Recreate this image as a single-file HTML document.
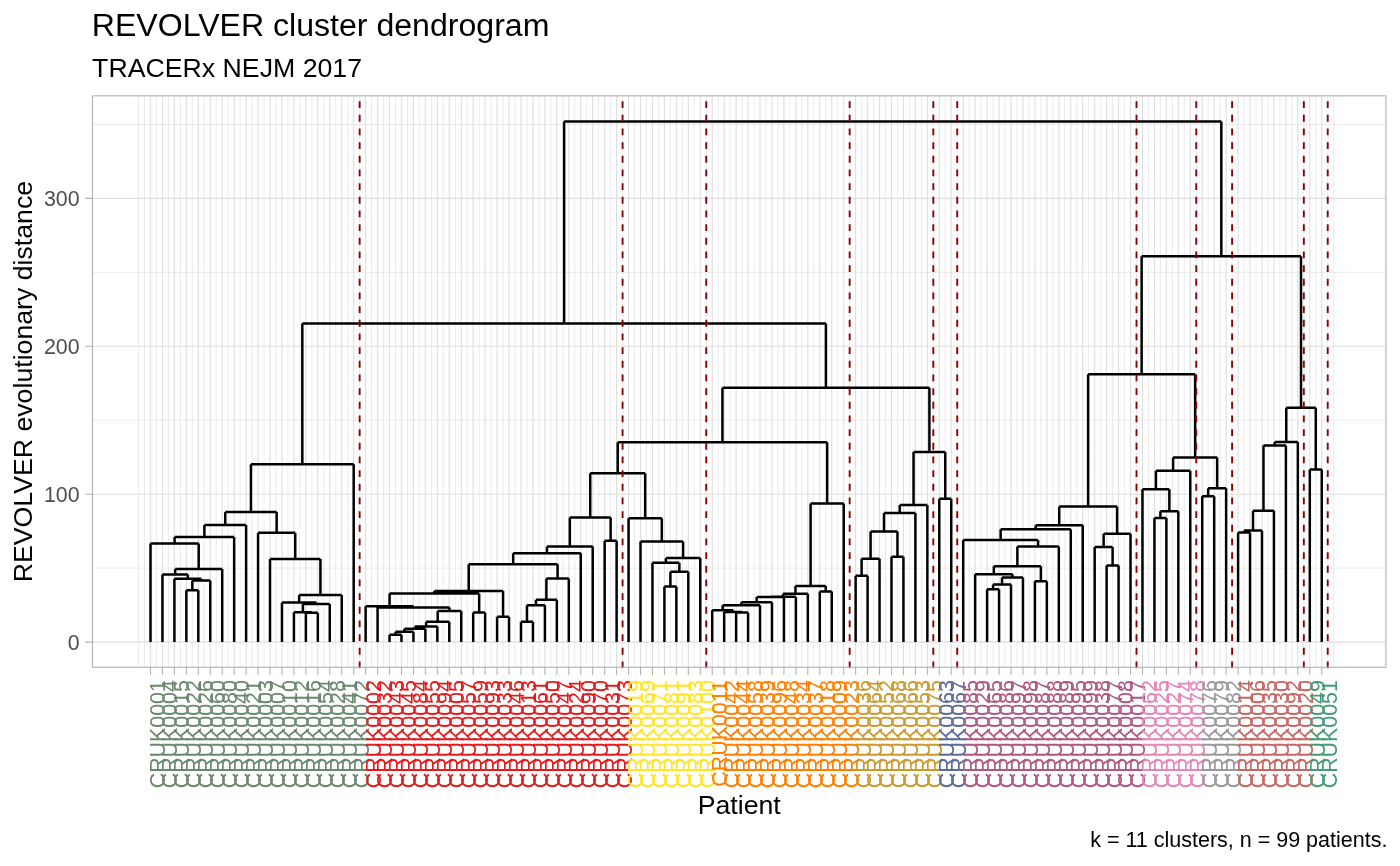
<!DOCTYPE html><html><head><meta charset="utf-8"><title>REVOLVER cluster dendrogram</title>
<style>html,body{margin:0;padding:0;background:#fff;width:1400px;height:866px;overflow:hidden}svg{display:block;will-change:transform;font-family:"Liberation Sans",sans-serif}</style></head><body>
<svg width="1400" height="866" viewBox="0 0 1400 866">
<path d="M92.5 568.15H1385.9 M92.5 420.25H1385.9 M92.5 272.35H1385.9 M92.5 124.45H1385.9 M138.55 95.85V667.3 M144.52 95.85V667.3 M156.48 95.85V667.3 M168.43 95.85V667.3 M180.38 95.85V667.3 M192.33 95.85V667.3 M204.28 95.85V667.3 M216.23 95.85V667.3 M228.18 95.85V667.3 M240.14 95.85V667.3 M252.09 95.85V667.3 M264.04 95.85V667.3 M275.99 95.85V667.3 M287.94 95.85V667.3 M299.89 95.85V667.3 M311.85 95.85V667.3 M323.8 95.85V667.3 M335.75 95.85V667.3 M347.7 95.85V667.3 M359.65 95.85V667.3 M371.6 95.85V667.3 M383.55 95.85V667.3 M395.51 95.85V667.3 M407.46 95.85V667.3 M419.41 95.85V667.3 M431.36 95.85V667.3 M443.31 95.85V667.3 M455.26 95.85V667.3 M467.21 95.85V667.3 M479.17 95.85V667.3 M491.12 95.85V667.3 M503.07 95.85V667.3 M515.02 95.85V667.3 M526.97 95.85V667.3 M538.92 95.85V667.3 M550.88 95.85V667.3 M562.83 95.85V667.3 M574.78 95.85V667.3 M586.73 95.85V667.3 M598.68 95.85V667.3 M610.63 95.85V667.3 M622.58 95.85V667.3 M634.54 95.85V667.3 M646.49 95.85V667.3 M658.44 95.85V667.3 M670.39 95.85V667.3 M682.34 95.85V667.3 M694.29 95.85V667.3 M706.24 95.85V667.3 M718.2 95.85V667.3 M730.15 95.85V667.3 M742.1 95.85V667.3 M754.05 95.85V667.3 M766 95.85V667.3 M777.95 95.85V667.3 M789.91 95.85V667.3 M801.86 95.85V667.3 M813.81 95.85V667.3 M825.76 95.85V667.3 M837.71 95.85V667.3 M849.66 95.85V667.3 M861.61 95.85V667.3 M873.57 95.85V667.3 M885.52 95.85V667.3 M897.47 95.85V667.3 M909.42 95.85V667.3 M921.37 95.85V667.3 M933.32 95.85V667.3 M945.27 95.85V667.3 M957.23 95.85V667.3 M969.18 95.85V667.3 M981.13 95.85V667.3 M993.08 95.85V667.3 M1005.03 95.85V667.3 M1016.98 95.85V667.3 M1028.94 95.85V667.3 M1040.89 95.85V667.3 M1052.84 95.85V667.3 M1064.79 95.85V667.3 M1076.74 95.85V667.3 M1088.69 95.85V667.3 M1100.64 95.85V667.3 M1112.6 95.85V667.3 M1124.55 95.85V667.3 M1136.5 95.85V667.3 M1148.45 95.85V667.3 M1160.4 95.85V667.3 M1172.35 95.85V667.3 M1184.3 95.85V667.3 M1196.26 95.85V667.3 M1208.21 95.85V667.3 M1220.16 95.85V667.3 M1232.11 95.85V667.3 M1244.06 95.85V667.3 M1256.01 95.85V667.3 M1267.97 95.85V667.3 M1279.92 95.85V667.3 M1291.87 95.85V667.3 M1303.82 95.85V667.3 M1315.77 95.85V667.3 M1327.72 95.85V667.3 M1333.7 95.85V667.3" stroke="#DEDEDE" stroke-width="0.6" fill="none"/>
<path d="M92.5 642.1H1385.9 M92.5 494.2H1385.9 M92.5 346.3H1385.9 M92.5 198.4H1385.9 M150.5 95.85V667.3 M162.45 95.85V667.3 M174.4 95.85V667.3 M186.35 95.85V667.3 M198.31 95.85V667.3 M210.26 95.85V667.3 M222.21 95.85V667.3 M234.16 95.85V667.3 M246.11 95.85V667.3 M258.06 95.85V667.3 M270.01 95.85V667.3 M281.97 95.85V667.3 M293.92 95.85V667.3 M305.87 95.85V667.3 M317.82 95.85V667.3 M329.77 95.85V667.3 M341.72 95.85V667.3 M353.68 95.85V667.3 M365.63 95.85V667.3 M377.58 95.85V667.3 M389.53 95.85V667.3 M401.48 95.85V667.3 M413.43 95.85V667.3 M425.38 95.85V667.3 M437.34 95.85V667.3 M449.29 95.85V667.3 M461.24 95.85V667.3 M473.19 95.85V667.3 M485.14 95.85V667.3 M497.09 95.85V667.3 M509.04 95.85V667.3 M521 95.85V667.3 M532.95 95.85V667.3 M544.9 95.85V667.3 M556.85 95.85V667.3 M568.8 95.85V667.3 M580.75 95.85V667.3 M592.71 95.85V667.3 M604.66 95.85V667.3 M616.61 95.85V667.3 M628.56 95.85V667.3 M640.51 95.85V667.3 M652.46 95.85V667.3 M664.41 95.85V667.3 M676.37 95.85V667.3 M688.32 95.85V667.3 M700.27 95.85V667.3 M712.22 95.85V667.3 M724.17 95.85V667.3 M736.12 95.85V667.3 M748.07 95.85V667.3 M760.03 95.85V667.3 M771.98 95.85V667.3 M783.93 95.85V667.3 M795.88 95.85V667.3 M807.83 95.85V667.3 M819.78 95.85V667.3 M831.74 95.85V667.3 M843.69 95.85V667.3 M855.64 95.85V667.3 M867.59 95.85V667.3 M879.54 95.85V667.3 M891.49 95.85V667.3 M903.44 95.85V667.3 M915.4 95.85V667.3 M927.35 95.85V667.3 M939.3 95.85V667.3 M951.25 95.85V667.3 M963.2 95.85V667.3 M975.15 95.85V667.3 M987.1 95.85V667.3 M999.06 95.85V667.3 M1011.01 95.85V667.3 M1022.96 95.85V667.3 M1034.91 95.85V667.3 M1046.86 95.85V667.3 M1058.81 95.85V667.3 M1070.77 95.85V667.3 M1082.72 95.85V667.3 M1094.67 95.85V667.3 M1106.62 95.85V667.3 M1118.57 95.85V667.3 M1130.52 95.85V667.3 M1142.47 95.85V667.3 M1154.43 95.85V667.3 M1166.38 95.85V667.3 M1178.33 95.85V667.3 M1190.28 95.85V667.3 M1202.23 95.85V667.3 M1214.18 95.85V667.3 M1226.13 95.85V667.3 M1238.09 95.85V667.3 M1250.04 95.85V667.3 M1261.99 95.85V667.3 M1273.94 95.85V667.3 M1285.89 95.85V667.3 M1297.84 95.85V667.3 M1309.8 95.85V667.3 M1321.75 95.85V667.3" stroke="#DEDEDE" stroke-width="1.1" fill="none"/>
<path d="M192.33 590.2L186.35 590.2 M186.35 590.2L186.35 642.1 M192.33 590.2L198.31 590.2 M198.31 590.2L198.31 642.1 M201.29 580.5L192.33 580.5 M192.33 580.5L192.33 590.2 M201.29 580.5L210.26 580.5 M210.26 580.5L210.26 642.1 M187.85 578.7L174.4 578.7 M174.4 578.7L174.4 642.1 M187.85 578.7L201.29 578.7 M201.29 578.7L201.29 580.5 M175.15 574.5L162.45 574.5 M162.45 574.5L162.45 642.1 M175.15 574.5L187.85 574.5 M187.85 574.5L187.85 578.7 M198.68 569L175.15 569 M175.15 569L175.15 574.5 M198.68 569L222.21 569 M222.21 569L222.21 642.1 M174.59 543.6L150.5 543.6 M150.5 543.6L150.5 642.1 M174.59 543.6L198.68 543.6 M198.68 543.6L198.68 569 M204.38 537.1L174.59 537.1 M174.59 537.1L174.59 543.6 M204.38 537.1L234.16 537.1 M234.16 537.1L234.16 642.1 M225.24 525.1L204.38 525.1 M204.38 525.1L204.38 537.1 M225.24 525.1L246.11 525.1 M246.11 525.1L246.11 642.1 M311.85 612.8L305.87 612.8 M305.87 612.8L305.87 642.1 M311.85 612.8L317.82 612.8 M317.82 612.8L317.82 642.1 M302.88 612.3L293.92 612.3 M293.92 612.3L293.92 642.1 M302.88 612.3L311.85 612.3 M311.85 612.3L311.85 612.8 M316.33 604L302.88 604 M302.88 604L302.88 612.3 M316.33 604L329.77 604 M329.77 604L329.77 642.1 M299.15 602.5L281.97 602.5 M281.97 602.5L281.97 642.1 M299.15 602.5L316.33 602.5 M316.33 602.5L316.33 604 M320.44 595L299.15 595 M299.15 595L299.15 602.5 M320.44 595L341.72 595 M341.72 595L341.72 642.1 M295.23 559L270.01 559 M270.01 559L270.01 642.1 M295.23 559L320.44 559 M320.44 559L320.44 595 M276.64 532.7L258.06 532.7 M258.06 532.7L258.06 642.1 M276.64 532.7L295.23 532.7 M295.23 532.7L295.23 559 M250.94 512.1L225.24 512.1 M225.24 512.1L225.24 525.1 M250.94 512.1L276.64 512.1 M276.64 512.1L276.64 532.7 M302.31 464.3L250.94 464.3 M250.94 464.3L250.94 512.1 M302.31 464.3L353.68 464.3 M353.68 464.3L353.68 642.1 M395.51 634.8L389.53 634.8 M389.53 634.8L389.53 642.1 M395.51 634.8L401.48 634.8 M401.48 634.8L401.48 642.1 M404.47 631.8L395.51 631.8 M395.51 631.8L395.51 634.8 M404.47 631.8L413.43 631.8 M413.43 631.8L413.43 642.1 M414.93 628.8L404.47 628.8 M404.47 628.8L404.47 631.8 M414.93 628.8L425.38 628.8 M425.38 628.8L425.38 642.1 M426.13 626.6L414.93 626.6 M414.93 626.6L414.93 628.8 M426.13 626.6L437.34 626.6 M437.34 626.6L437.34 642.1 M437.71 621.8L426.13 621.8 M426.13 621.8L426.13 626.6 M437.71 621.8L449.29 621.8 M449.29 621.8L449.29 642.1 M449.47 611.1L437.71 611.1 M437.71 611.1L437.71 621.8 M449.47 611.1L461.24 611.1 M461.24 611.1L461.24 642.1 M413.53 607.5L377.58 607.5 M377.58 607.5L377.58 642.1 M413.53 607.5L449.47 607.5 M449.47 607.5L449.47 611.1 M389.58 606.3L365.63 606.3 M365.63 606.3L365.63 642.1 M389.58 606.3L413.53 606.3 M413.53 606.3L413.53 607.5 M479.17 612.6L473.19 612.6 M473.19 612.6L473.19 642.1 M479.17 612.6L485.14 612.6 M485.14 612.6L485.14 642.1 M434.37 593.6L389.58 593.6 M389.58 593.6L389.58 606.3 M434.37 593.6L479.17 593.6 M479.17 593.6L479.17 612.6 M503.07 616.8L497.09 616.8 M497.09 616.8L497.09 642.1 M503.07 616.8L509.04 616.8 M509.04 616.8L509.04 642.1 M468.72 591L434.37 591 M434.37 591L434.37 593.6 M468.72 591L503.07 591 M503.07 591L503.07 616.8 M526.97 621.8L521 621.8 M521 621.8L521 642.1 M526.97 621.8L532.95 621.8 M532.95 621.8L532.95 642.1 M535.94 605.2L526.97 605.2 M526.97 605.2L526.97 621.8 M535.94 605.2L544.9 605.2 M544.9 605.2L544.9 642.1 M546.39 599.7L535.94 599.7 M535.94 599.7L535.94 605.2 M546.39 599.7L556.85 599.7 M556.85 599.7L556.85 642.1 M557.6 578.4L546.39 578.4 M546.39 578.4L546.39 599.7 M557.6 578.4L568.8 578.4 M568.8 578.4L568.8 642.1 M513.16 564.2L468.72 564.2 M468.72 564.2L468.72 591 M513.16 564.2L557.6 564.2 M557.6 564.2L557.6 578.4 M546.96 553.2L513.16 553.2 M513.16 553.2L513.16 564.2 M546.96 553.2L580.75 553.2 M580.75 553.2L580.75 642.1 M569.83 546.6L546.96 546.6 M546.96 546.6L546.96 553.2 M569.83 546.6L592.71 546.6 M592.71 546.6L592.71 642.1 M610.63 540.7L604.66 540.7 M604.66 540.7L604.66 642.1 M610.63 540.7L616.61 540.7 M616.61 540.7L616.61 642.1 M590.23 517.5L569.83 517.5 M569.83 517.5L569.83 546.6 M590.23 517.5L610.63 517.5 M610.63 517.5L610.63 540.7 M670.39 586.4L664.41 586.4 M664.41 586.4L664.41 642.1 M670.39 586.4L676.37 586.4 M676.37 586.4L676.37 642.1 M679.35 571.8L670.39 571.8 M670.39 571.8L670.39 586.4 M679.35 571.8L688.32 571.8 M688.32 571.8L688.32 642.1 M665.91 562.8L652.46 562.8 M652.46 562.8L652.46 642.1 M665.91 562.8L679.35 562.8 M679.35 562.8L679.35 571.8 M683.09 558L665.91 558 M665.91 558L665.91 562.8 M683.09 558L700.27 558 M700.27 558L700.27 642.1 M661.8 541.6L640.51 541.6 M640.51 541.6L640.51 642.1 M661.8 541.6L683.09 541.6 M683.09 541.6L683.09 558 M645.18 518.2L628.56 518.2 M628.56 518.2L628.56 642.1 M645.18 518.2L661.8 518.2 M661.8 518.2L661.8 541.6 M617.71 473.3L590.23 473.3 M590.23 473.3L590.23 517.5 M617.71 473.3L645.18 473.3 M645.18 473.3L645.18 518.2 M742.1 612.5L736.12 612.5 M736.12 612.5L736.12 642.1 M742.1 612.5L748.07 612.5 M748.07 612.5L748.07 642.1 M733.14 612L724.17 612 M724.17 612L724.17 642.1 M733.14 612L742.1 612 M742.1 612L742.1 612.5 M722.68 610.25L712.22 610.25 M712.22 610.25L712.22 642.1 M722.68 610.25L733.14 610.25 M733.14 610.25L733.14 612 M741.35 605.25L722.68 605.25 M722.68 605.25L722.68 610.25 M741.35 605.25L760.03 605.25 M760.03 605.25L760.03 642.1 M756.67 602.3L741.35 602.3 M741.35 602.3L741.35 605.25 M756.67 602.3L771.98 602.3 M771.98 602.3L771.98 642.1 M770.3 597L756.67 597 M756.67 597L756.67 602.3 M770.3 597L783.93 597 M783.93 597L783.93 642.1 M783.09 596.7L770.3 596.7 M770.3 596.7L770.3 597 M783.09 596.7L795.88 596.7 M795.88 596.7L795.88 642.1 M795.46 593.8L783.09 593.8 M783.09 593.8L783.09 596.7 M795.46 593.8L807.83 593.8 M807.83 593.8L807.83 642.1 M825.76 591.6L819.78 591.6 M819.78 591.6L819.78 642.1 M825.76 591.6L831.74 591.6 M831.74 591.6L831.74 642.1 M810.61 586.1L795.46 586.1 M795.46 586.1L795.46 593.8 M810.61 586.1L825.76 586.1 M825.76 586.1L825.76 591.6 M827.15 503.5L810.61 503.5 M810.61 503.5L810.61 586.1 M827.15 503.5L843.69 503.5 M843.69 503.5L843.69 642.1 M722.43 442.3L617.71 442.3 M617.71 442.3L617.71 473.3 M722.43 442.3L827.15 442.3 M827.15 442.3L827.15 503.5 M861.61 575.8L855.64 575.8 M855.64 575.8L855.64 642.1 M861.61 575.8L867.59 575.8 M867.59 575.8L867.59 642.1 M870.58 558.8L861.61 558.8 M861.61 558.8L861.61 575.8 M870.58 558.8L879.54 558.8 M879.54 558.8L879.54 642.1 M897.47 556.8L891.49 556.8 M891.49 556.8L891.49 642.1 M897.47 556.8L903.44 556.8 M903.44 556.8L903.44 642.1 M884.02 531.6L870.58 531.6 M870.58 531.6L870.58 558.8 M884.02 531.6L897.47 531.6 M897.47 531.6L897.47 556.8 M899.71 512.9L884.02 512.9 M884.02 512.9L884.02 531.6 M899.71 512.9L915.4 512.9 M915.4 512.9L915.4 642.1 M913.53 505.1L899.71 505.1 M899.71 505.1L899.71 512.9 M913.53 505.1L927.35 505.1 M927.35 505.1L927.35 642.1 M945.27 498.8L939.3 498.8 M939.3 498.8L939.3 642.1 M945.27 498.8L951.25 498.8 M951.25 498.8L951.25 642.1 M929.4 452.1L913.53 452.1 M913.53 452.1L913.53 505.1 M929.4 452.1L945.27 452.1 M945.27 452.1L945.27 498.8 M825.91 387.8L722.43 387.8 M722.43 387.8L722.43 442.3 M825.91 387.8L929.4 387.8 M929.4 387.8L929.4 452.1 M564.11 323.6L302.31 323.6 M302.31 323.6L302.31 464.3 M564.11 323.6L825.91 323.6 M825.91 323.6L825.91 387.8 M993.08 589.3L987.1 589.3 M987.1 589.3L987.1 642.1 M993.08 589.3L999.06 589.3 M999.06 589.3L999.06 642.1 M1002.04 584.4L993.08 584.4 M993.08 584.4L993.08 589.3 M1002.04 584.4L1011.01 584.4 M1011.01 584.4L1011.01 642.1 M1012.5 577.5L1002.04 577.5 M1002.04 577.5L1002.04 584.4 M1012.5 577.5L1022.96 577.5 M1022.96 577.5L1022.96 642.1 M993.83 574.2L975.15 574.2 M975.15 574.2L975.15 642.1 M993.83 574.2L1012.5 574.2 M1012.5 574.2L1012.5 577.5 M1040.89 581.3L1034.91 581.3 M1034.91 581.3L1034.91 642.1 M1040.89 581.3L1046.86 581.3 M1046.86 581.3L1046.86 642.1 M1017.36 566.3L993.83 566.3 M993.83 566.3L993.83 574.2 M1017.36 566.3L1040.89 566.3 M1040.89 566.3L1040.89 581.3 M1038.09 546.5L1017.36 546.5 M1017.36 546.5L1017.36 566.3 M1038.09 546.5L1058.81 546.5 M1058.81 546.5L1058.81 642.1 M1000.64 540L963.2 540 M963.2 540L963.2 642.1 M1000.64 540L1038.09 540 M1038.09 540L1038.09 546.5 M1035.7 529.2L1000.64 529.2 M1000.64 529.2L1000.64 540 M1035.7 529.2L1070.77 529.2 M1070.77 529.2L1070.77 642.1 M1059.21 525.3L1035.7 525.3 M1035.7 525.3L1035.7 529.2 M1059.21 525.3L1082.72 525.3 M1082.72 525.3L1082.72 642.1 M1112.6 565.4L1106.62 565.4 M1106.62 565.4L1106.62 642.1 M1112.6 565.4L1118.57 565.4 M1118.57 565.4L1118.57 642.1 M1103.63 546.9L1094.67 546.9 M1094.67 546.9L1094.67 642.1 M1103.63 546.9L1112.6 546.9 M1112.6 546.9L1112.6 565.4 M1117.08 533.8L1103.63 533.8 M1103.63 533.8L1103.63 546.9 M1117.08 533.8L1130.52 533.8 M1130.52 533.8L1130.52 642.1 M1088.14 506.6L1059.21 506.6 M1059.21 506.6L1059.21 525.3 M1088.14 506.6L1117.08 506.6 M1117.08 506.6L1117.08 533.8 M1160.4 518.1L1154.43 518.1 M1154.43 518.1L1154.43 642.1 M1160.4 518.1L1166.38 518.1 M1166.38 518.1L1166.38 642.1 M1169.37 511.2L1160.4 511.2 M1160.4 511.2L1160.4 518.1 M1169.37 511.2L1178.33 511.2 M1178.33 511.2L1178.33 642.1 M1155.92 489.3L1142.47 489.3 M1142.47 489.3L1142.47 642.1 M1155.92 489.3L1169.37 489.3 M1169.37 489.3L1169.37 511.2 M1173.1 470.8L1155.92 470.8 M1155.92 470.8L1155.92 489.3 M1173.1 470.8L1190.28 470.8 M1190.28 470.8L1190.28 642.1 M1208.21 496.3L1202.23 496.3 M1202.23 496.3L1202.23 642.1 M1208.21 496.3L1214.18 496.3 M1214.18 496.3L1214.18 642.1 M1217.17 488.2L1208.21 488.2 M1208.21 488.2L1208.21 496.3 M1217.17 488.2L1226.13 488.2 M1226.13 488.2L1226.13 642.1 M1195.14 457.4L1173.1 457.4 M1173.1 457.4L1173.1 470.8 M1195.14 457.4L1217.17 457.4 M1217.17 457.4L1217.17 488.2 M1141.64 374.2L1088.14 374.2 M1088.14 374.2L1088.14 506.6 M1141.64 374.2L1195.14 374.2 M1195.14 374.2L1195.14 457.4 M1244.06 532.6L1238.09 532.6 M1238.09 532.6L1238.09 642.1 M1244.06 532.6L1250.04 532.6 M1250.04 532.6L1250.04 642.1 M1253.03 530.6L1244.06 530.6 M1244.06 530.6L1244.06 532.6 M1253.03 530.6L1261.99 530.6 M1261.99 530.6L1261.99 642.1 M1263.48 510.7L1253.03 510.7 M1253.03 510.7L1253.03 530.6 M1263.48 510.7L1273.94 510.7 M1273.94 510.7L1273.94 642.1 M1274.69 445.6L1263.48 445.6 M1263.48 445.6L1263.48 510.7 M1274.69 445.6L1285.89 445.6 M1285.89 445.6L1285.89 642.1 M1286.27 441.9L1274.69 441.9 M1274.69 441.9L1274.69 445.6 M1286.27 441.9L1297.84 441.9 M1297.84 441.9L1297.84 642.1 M1315.77 469.4L1309.8 469.4 M1309.8 469.4L1309.8 642.1 M1315.77 469.4L1321.75 469.4 M1321.75 469.4L1321.75 642.1 M1301.02 407.7L1286.27 407.7 M1286.27 407.7L1286.27 441.9 M1301.02 407.7L1315.77 407.7 M1315.77 407.7L1315.77 469.4 M1221.33 256.2L1141.64 256.2 M1141.64 256.2L1141.64 374.2 M1221.33 256.2L1301.02 256.2 M1301.02 256.2L1301.02 407.7 M892.72 121.5L564.11 121.5 M564.11 121.5L564.11 323.6 M892.72 121.5L1221.33 121.5 M1221.33 121.5L1221.33 256.2" stroke="#000" stroke-width="2.5" stroke-linecap="butt" fill="none"/>
<path d="M359.65 668.3V95.85 M622.58 668.3V95.85 M706.24 668.3V95.85 M849.66 668.3V95.85 M933.32 668.3V95.85 M957.23 668.3V95.85 M1136.5 668.3V95.85 M1196.26 668.3V95.85 M1232.11 668.3V95.85 M1303.82 668.3V95.85 M1327.72 668.3V95.85" stroke="#8B0000" stroke-width="1.9" stroke-dasharray="6.833 6.833" fill="none"/>
<rect x="92.5" y="95.85" width="1293.4" height="571.45" fill="none" stroke="#B3B3B3" stroke-width="1.15"/>
<path d="M85.2 642.1H92.5 M85.2 494.2H92.5 M85.2 346.3H92.5 M85.2 198.4H92.5 M150.5 667.3V675 M162.45 667.3V675 M174.4 667.3V675 M186.35 667.3V675 M198.31 667.3V675 M210.26 667.3V675 M222.21 667.3V675 M234.16 667.3V675 M246.11 667.3V675 M258.06 667.3V675 M270.01 667.3V675 M281.97 667.3V675 M293.92 667.3V675 M305.87 667.3V675 M317.82 667.3V675 M329.77 667.3V675 M341.72 667.3V675 M353.68 667.3V675 M365.63 667.3V675 M377.58 667.3V675 M389.53 667.3V675 M401.48 667.3V675 M413.43 667.3V675 M425.38 667.3V675 M437.34 667.3V675 M449.29 667.3V675 M461.24 667.3V675 M473.19 667.3V675 M485.14 667.3V675 M497.09 667.3V675 M509.04 667.3V675 M521 667.3V675 M532.95 667.3V675 M544.9 667.3V675 M556.85 667.3V675 M568.8 667.3V675 M580.75 667.3V675 M592.71 667.3V675 M604.66 667.3V675 M616.61 667.3V675 M628.56 667.3V675 M640.51 667.3V675 M652.46 667.3V675 M664.41 667.3V675 M676.37 667.3V675 M688.32 667.3V675 M700.27 667.3V675 M712.22 667.3V675 M724.17 667.3V675 M736.12 667.3V675 M748.07 667.3V675 M760.03 667.3V675 M771.98 667.3V675 M783.93 667.3V675 M795.88 667.3V675 M807.83 667.3V675 M819.78 667.3V675 M831.74 667.3V675 M843.69 667.3V675 M855.64 667.3V675 M867.59 667.3V675 M879.54 667.3V675 M891.49 667.3V675 M903.44 667.3V675 M915.4 667.3V675 M927.35 667.3V675 M939.3 667.3V675 M951.25 667.3V675 M963.2 667.3V675 M975.15 667.3V675 M987.1 667.3V675 M999.06 667.3V675 M1011.01 667.3V675 M1022.96 667.3V675 M1034.91 667.3V675 M1046.86 667.3V675 M1058.81 667.3V675 M1070.77 667.3V675 M1082.72 667.3V675 M1094.67 667.3V675 M1106.62 667.3V675 M1118.57 667.3V675 M1130.52 667.3V675 M1142.47 667.3V675 M1154.43 667.3V675 M1166.38 667.3V675 M1178.33 667.3V675 M1190.28 667.3V675 M1202.23 667.3V675 M1214.18 667.3V675 M1226.13 667.3V675 M1238.09 667.3V675 M1250.04 667.3V675 M1261.99 667.3V675 M1273.94 667.3V675 M1285.89 667.3V675 M1297.84 667.3V675 M1309.8 667.3V675 M1321.75 667.3V675" stroke="#B3B3B3" stroke-width="1.1" fill="none"/>
<text x="79.6" y="649.5" font-size="21.4" fill="#4D4D4D" text-anchor="end">0</text>
<text x="79.6" y="501.6" font-size="21.4" fill="#4D4D4D" text-anchor="end">100</text>
<text x="79.6" y="353.7" font-size="21.4" fill="#4D4D4D" text-anchor="end">200</text>
<text x="79.6" y="205.8" font-size="21.4" fill="#4D4D4D" text-anchor="end">300</text>
<text transform="translate(165.4 680.1) rotate(-90)" font-size="21.4" fill="#6B886E" text-anchor="end">CRUK0001</text>
<text transform="translate(177.35 680.1) rotate(-90)" font-size="21.4" fill="#6B886E" text-anchor="end">CRUK0004</text>
<text transform="translate(189.3 680.1) rotate(-90)" font-size="21.4" fill="#6B886E" text-anchor="end">CRUK0015</text>
<text transform="translate(201.25 680.1) rotate(-90)" font-size="21.4" fill="#6B886E" text-anchor="end">CRUK0022</text>
<text transform="translate(213.21 680.1) rotate(-90)" font-size="21.4" fill="#6B886E" text-anchor="end">CRUK0026</text>
<text transform="translate(225.16 680.1) rotate(-90)" font-size="21.4" fill="#6B886E" text-anchor="end">CRUK0060</text>
<text transform="translate(237.11 680.1) rotate(-90)" font-size="21.4" fill="#6B886E" text-anchor="end">CRUK0080</text>
<text transform="translate(249.06 680.1) rotate(-90)" font-size="21.4" fill="#6B886E" text-anchor="end">CRUK0040</text>
<text transform="translate(261.01 680.1) rotate(-90)" font-size="21.4" fill="#6B886E" text-anchor="end">CRUK0021</text>
<text transform="translate(272.96 680.1) rotate(-90)" font-size="21.4" fill="#6B886E" text-anchor="end">CRUK0003</text>
<text transform="translate(284.91 680.1) rotate(-90)" font-size="21.4" fill="#6B886E" text-anchor="end">CRUK0007</text>
<text transform="translate(296.87 680.1) rotate(-90)" font-size="21.4" fill="#6B886E" text-anchor="end">CRUK0010</text>
<text transform="translate(308.82 680.1) rotate(-90)" font-size="21.4" fill="#6B886E" text-anchor="end">CRUK0012</text>
<text transform="translate(320.77 680.1) rotate(-90)" font-size="21.4" fill="#6B886E" text-anchor="end">CRUK0016</text>
<text transform="translate(332.72 680.1) rotate(-90)" font-size="21.4" fill="#6B886E" text-anchor="end">CRUK0054</text>
<text transform="translate(344.67 680.1) rotate(-90)" font-size="21.4" fill="#6B886E" text-anchor="end">CRUK0028</text>
<text transform="translate(356.62 680.1) rotate(-90)" font-size="21.4" fill="#6B886E" text-anchor="end">CRUK0041</text>
<text transform="translate(368.58 680.1) rotate(-90)" font-size="21.4" fill="#6B886E" text-anchor="end">CRUK0072</text>
<text transform="translate(380.53 680.1) rotate(-90)" font-size="21.4" fill="#E41A1C" text-anchor="end">CRUK0002</text>
<text transform="translate(392.48 680.1) rotate(-90)" font-size="21.4" fill="#E41A1C" text-anchor="end">CRUK0032</text>
<text transform="translate(404.43 680.1) rotate(-90)" font-size="21.4" fill="#E41A1C" text-anchor="end">CRUK0043</text>
<text transform="translate(416.38 680.1) rotate(-90)" font-size="21.4" fill="#E41A1C" text-anchor="end">CRUK0045</text>
<text transform="translate(428.33 680.1) rotate(-90)" font-size="21.4" fill="#E41A1C" text-anchor="end">CRUK0084</text>
<text transform="translate(440.28 680.1) rotate(-90)" font-size="21.4" fill="#E41A1C" text-anchor="end">CRUK0055</text>
<text transform="translate(452.24 680.1) rotate(-90)" font-size="21.4" fill="#E41A1C" text-anchor="end">CRUK0094</text>
<text transform="translate(464.19 680.1) rotate(-90)" font-size="21.4" fill="#E41A1C" text-anchor="end">CRUK0005</text>
<text transform="translate(476.14 680.1) rotate(-90)" font-size="21.4" fill="#E41A1C" text-anchor="end">CRUK0057</text>
<text transform="translate(488.09 680.1) rotate(-90)" font-size="21.4" fill="#E41A1C" text-anchor="end">CRUK0059</text>
<text transform="translate(500.04 680.1) rotate(-90)" font-size="21.4" fill="#E41A1C" text-anchor="end">CRUK0093</text>
<text transform="translate(511.99 680.1) rotate(-90)" font-size="21.4" fill="#E41A1C" text-anchor="end">CRUK0033</text>
<text transform="translate(523.94 680.1) rotate(-90)" font-size="21.4" fill="#E41A1C" text-anchor="end">CRUK0046</text>
<text transform="translate(535.9 680.1) rotate(-90)" font-size="21.4" fill="#E41A1C" text-anchor="end">CRUK0013</text>
<text transform="translate(547.85 680.1) rotate(-90)" font-size="21.4" fill="#E41A1C" text-anchor="end">CRUK0061</text>
<text transform="translate(559.8 680.1) rotate(-90)" font-size="21.4" fill="#E41A1C" text-anchor="end">CRUK0050</text>
<text transform="translate(571.75 680.1) rotate(-90)" font-size="21.4" fill="#E41A1C" text-anchor="end">CRUK0047</text>
<text transform="translate(583.7 680.1) rotate(-90)" font-size="21.4" fill="#E41A1C" text-anchor="end">CRUK0024</text>
<text transform="translate(595.65 680.1) rotate(-90)" font-size="21.4" fill="#E41A1C" text-anchor="end">CRUK0090</text>
<text transform="translate(607.61 680.1) rotate(-90)" font-size="21.4" fill="#E41A1C" text-anchor="end">CRUK0070</text>
<text transform="translate(619.56 680.1) rotate(-90)" font-size="21.4" fill="#E41A1C" text-anchor="end">CRUK0031</text>
<text transform="translate(631.51 680.1) rotate(-90)" font-size="21.4" fill="#E41A1C" text-anchor="end">CRUK0073</text>
<text transform="translate(643.46 680.1) rotate(-90)" font-size="21.4" fill="#FFE529" text-anchor="end">CRUK0019</text>
<text transform="translate(655.41 680.1) rotate(-90)" font-size="21.4" fill="#FFE529" text-anchor="end">CRUK0069</text>
<text transform="translate(667.36 680.1) rotate(-90)" font-size="21.4" fill="#FFE529" text-anchor="end">CRUK0071</text>
<text transform="translate(679.31 680.1) rotate(-90)" font-size="21.4" fill="#FFE529" text-anchor="end">CRUK0081</text>
<text transform="translate(691.27 680.1) rotate(-90)" font-size="21.4" fill="#FFE529" text-anchor="end">CRUK0091</text>
<text transform="translate(703.22 680.1) rotate(-90)" font-size="21.4" fill="#FFE529" text-anchor="end">CRUK0083</text>
<text transform="translate(715.17 680.1) rotate(-90)" font-size="21.4" fill="#FFE529" text-anchor="end">CRUK0100</text>
<text transform="translate(727.12 680.1) rotate(-90)" font-size="21.4" fill="#FF7F00" text-anchor="end">CRUK0011</text>
<text transform="translate(739.07 680.1) rotate(-90)" font-size="21.4" fill="#FF7F00" text-anchor="end">CRUK0042</text>
<text transform="translate(751.02 680.1) rotate(-90)" font-size="21.4" fill="#FF7F00" text-anchor="end">CRUK0044</text>
<text transform="translate(762.97 680.1) rotate(-90)" font-size="21.4" fill="#FF7F00" text-anchor="end">CRUK0058</text>
<text transform="translate(774.93 680.1) rotate(-90)" font-size="21.4" fill="#FF7F00" text-anchor="end">CRUK0039</text>
<text transform="translate(786.88 680.1) rotate(-90)" font-size="21.4" fill="#FF7F00" text-anchor="end">CRUK0096</text>
<text transform="translate(798.83 680.1) rotate(-90)" font-size="21.4" fill="#FF7F00" text-anchor="end">CRUK0048</text>
<text transform="translate(810.78 680.1) rotate(-90)" font-size="21.4" fill="#FF7F00" text-anchor="end">CRUK0034</text>
<text transform="translate(822.73 680.1) rotate(-90)" font-size="21.4" fill="#FF7F00" text-anchor="end">CRUK0037</text>
<text transform="translate(834.68 680.1) rotate(-90)" font-size="21.4" fill="#FF7F00" text-anchor="end">CRUK0018</text>
<text transform="translate(846.64 680.1) rotate(-90)" font-size="21.4" fill="#FF7F00" text-anchor="end">CRUK0009</text>
<text transform="translate(858.59 680.1) rotate(-90)" font-size="21.4" fill="#FF7F00" text-anchor="end">CRUK0023</text>
<text transform="translate(870.54 680.1) rotate(-90)" font-size="21.4" fill="#CA9A2C" text-anchor="end">CRUK0036</text>
<text transform="translate(882.49 680.1) rotate(-90)" font-size="21.4" fill="#CA9A2C" text-anchor="end">CRUK0064</text>
<text transform="translate(894.44 680.1) rotate(-90)" font-size="21.4" fill="#CA9A2C" text-anchor="end">CRUK0052</text>
<text transform="translate(906.39 680.1) rotate(-90)" font-size="21.4" fill="#CA9A2C" text-anchor="end">CRUK0068</text>
<text transform="translate(918.34 680.1) rotate(-90)" font-size="21.4" fill="#CA9A2C" text-anchor="end">CRUK0066</text>
<text transform="translate(930.3 680.1) rotate(-90)" font-size="21.4" fill="#CA9A2C" text-anchor="end">CRUK0053</text>
<text transform="translate(942.25 680.1) rotate(-90)" font-size="21.4" fill="#CA9A2C" text-anchor="end">CRUK0075</text>
<text transform="translate(954.2 680.1) rotate(-90)" font-size="21.4" fill="#5A6A99" text-anchor="end">CRUK0063</text>
<text transform="translate(966.15 680.1) rotate(-90)" font-size="21.4" fill="#5A6A99" text-anchor="end">CRUK0067</text>
<text transform="translate(978.1 680.1) rotate(-90)" font-size="21.4" fill="#AD5882" text-anchor="end">CRUK0085</text>
<text transform="translate(990.05 680.1) rotate(-90)" font-size="21.4" fill="#AD5882" text-anchor="end">CRUK0029</text>
<text transform="translate(1002 680.1) rotate(-90)" font-size="21.4" fill="#AD5882" text-anchor="end">CRUK0065</text>
<text transform="translate(1013.96 680.1) rotate(-90)" font-size="21.4" fill="#AD5882" text-anchor="end">CRUK0086</text>
<text transform="translate(1025.91 680.1) rotate(-90)" font-size="21.4" fill="#AD5882" text-anchor="end">CRUK0097</text>
<text transform="translate(1037.86 680.1) rotate(-90)" font-size="21.4" fill="#AD5882" text-anchor="end">CRUK0098</text>
<text transform="translate(1049.81 680.1) rotate(-90)" font-size="21.4" fill="#AD5882" text-anchor="end">CRUK0087</text>
<text transform="translate(1061.76 680.1) rotate(-90)" font-size="21.4" fill="#AD5882" text-anchor="end">CRUK0088</text>
<text transform="translate(1073.71 680.1) rotate(-90)" font-size="21.4" fill="#AD5882" text-anchor="end">CRUK0089</text>
<text transform="translate(1085.67 680.1) rotate(-90)" font-size="21.4" fill="#AD5882" text-anchor="end">CRUK0095</text>
<text transform="translate(1097.62 680.1) rotate(-90)" font-size="21.4" fill="#AD5882" text-anchor="end">CRUK0099</text>
<text transform="translate(1109.57 680.1) rotate(-90)" font-size="21.4" fill="#AD5882" text-anchor="end">CRUK0038</text>
<text transform="translate(1121.52 680.1) rotate(-90)" font-size="21.4" fill="#AD5882" text-anchor="end">CRUK0077</text>
<text transform="translate(1133.47 680.1) rotate(-90)" font-size="21.4" fill="#AD5882" text-anchor="end">CRUK0008</text>
<text transform="translate(1145.42 680.1) rotate(-90)" font-size="21.4" fill="#AD5882" text-anchor="end">CRUK0017</text>
<text transform="translate(1157.37 680.1) rotate(-90)" font-size="21.4" fill="#E486B7" text-anchor="end">CRUK0062</text>
<text transform="translate(1169.33 680.1) rotate(-90)" font-size="21.4" fill="#E486B7" text-anchor="end">CRUK0025</text>
<text transform="translate(1181.28 680.1) rotate(-90)" font-size="21.4" fill="#E486B7" text-anchor="end">CRUK0027</text>
<text transform="translate(1193.23 680.1) rotate(-90)" font-size="21.4" fill="#E486B7" text-anchor="end">CRUK0074</text>
<text transform="translate(1205.18 680.1) rotate(-90)" font-size="21.4" fill="#E486B7" text-anchor="end">CRUK0078</text>
<text transform="translate(1217.13 680.1) rotate(-90)" font-size="21.4" fill="#999999" text-anchor="end">CRUK0076</text>
<text transform="translate(1229.08 680.1) rotate(-90)" font-size="21.4" fill="#999999" text-anchor="end">CRUK0079</text>
<text transform="translate(1241.04 680.1) rotate(-90)" font-size="21.4" fill="#999999" text-anchor="end">CRUK0082</text>
<text transform="translate(1252.99 680.1) rotate(-90)" font-size="21.4" fill="#C66764" text-anchor="end">CRUK0014</text>
<text transform="translate(1264.94 680.1) rotate(-90)" font-size="21.4" fill="#C66764" text-anchor="end">CRUK0006</text>
<text transform="translate(1276.89 680.1) rotate(-90)" font-size="21.4" fill="#C66764" text-anchor="end">CRUK0035</text>
<text transform="translate(1288.84 680.1) rotate(-90)" font-size="21.4" fill="#C66764" text-anchor="end">CRUK0030</text>
<text transform="translate(1300.79 680.1) rotate(-90)" font-size="21.4" fill="#C66764" text-anchor="end">CRUK0092</text>
<text transform="translate(1312.74 680.1) rotate(-90)" font-size="21.4" fill="#C66764" text-anchor="end">CRUK0020</text>
<text transform="translate(1324.7 680.1) rotate(-90)" font-size="21.4" fill="#449B76" text-anchor="end">CRUK0049</text>
<text transform="translate(1336.65 680.1) rotate(-90)" font-size="21.4" fill="#449B76" text-anchor="end">CRUK0051</text>
<text x="91.8" y="35.7" font-size="32.1" fill="#000">REVOLVER cluster dendrogram</text>
<text x="92.1" y="76.7" font-size="26.7" fill="#000">TRACERx NEJM 2017</text>
<text x="739.2" y="813.9" font-size="26.7" fill="#000" text-anchor="middle">Patient</text>
<text transform="translate(31.9 381.6) rotate(-90)" font-size="26.7" fill="#000" text-anchor="middle">REVOLVER evolutionary distance</text>
<text x="1387.4" y="847" font-size="21.5" fill="#000" text-anchor="end">k = 11 clusters, n = 99 patients.</text>
</svg></body></html>
